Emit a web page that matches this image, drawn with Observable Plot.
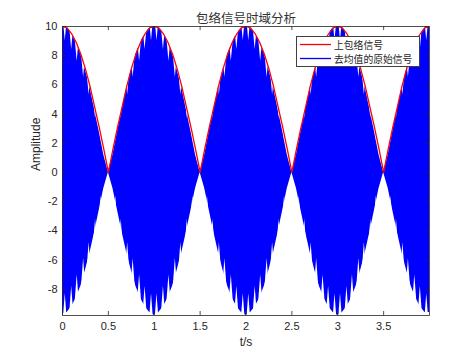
<!DOCTYPE html>
<html><head><meta charset="utf-8">
<script src="https://cdn.jsdelivr.net/npm/d3@7"></script>
<script src="https://cdn.jsdelivr.net/npm/@observablehq/plot@0.6"></script>
<style>
body{margin:0;background:#fff;}
#wrap{position:relative;width:474px;height:355px;overflow:hidden;}
#legend{position:absolute;left:296px;top:36px;width:122px;height:29px;border:1px solid #404040;background:#fff;}
#legend svg{display:block;}
</style></head><body><div id="wrap"></div>
<script>
const title = "包络信号时域分析";
const xLabel = "t/s";
const yLabel = "Amplitude";
const xTicks = [0, 0.5, 1, 1.5, 2, 2.5, 3, 3.5];
const yTicks = [-8, -6, -4, -2, 0, 2, 4, 6, 8, 10];
const seriesNames = ["上包络信号", "去均值的原始信号"];
const seriesColors = ["#ff0000", "#0000ff"];

const t = [
0,0.05,0.1,0.15,0.2,0.25,0.3,0.35,0.4,0.45,0.5,0.55,0.6,0.65,0.7,0.75,0.8,0.85,0.9,0.95,
1,1.05,1.1,1.15,1.2,1.25,1.3,1.35,1.4,1.45,1.5,1.55,1.6,1.65,1.7,1.75,1.8,1.85,1.9,1.95,
2,2.05,2.1,2.15,2.2,2.25,2.3,2.35,2.4,2.45,2.5,2.55,2.6,2.65,2.7,2.75,2.8,2.85,2.9,2.95,
3,3.05,3.1,3.15,3.2,3.25,3.3,3.35,3.4,3.45,3.5,3.55,3.6,3.65,3.7,3.75,3.8,3.85,3.9,3.95,
4];
const envelope = [
10,9.9,9.5,8.9,8.1,7.1,5.9,4.5,3.1,1.6,0,1.6,3.1,4.5,5.9,7.1,8.1,8.9,9.5,9.9,
10,9.9,9.5,8.9,8.1,7.1,5.9,4.5,3.1,1.6,0,1.6,3.1,4.5,5.9,7.1,8.1,8.9,9.5,9.9,
10,9.9,9.5,8.9,8.1,7.1,5.9,4.5,3.1,1.6,0,1.6,3.1,4.5,5.9,7.1,8.1,8.9,9.5,9.9,
10,9.9,9.5,8.9,8.1,7.1,5.9,4.5,3.1,1.6,0,1.6,3.1,4.5,5.9,7.1,8.1,8.9,9.5,9.9,
10];
const signalHigh = [
10,9.9,9.5,8.9,8.1,7.0,5.8,4.3,2.8,1.2,0,1.2,2.8,4.3,5.8,7.0,8.1,8.9,9.5,9.9,
10,9.9,9.5,8.9,8.1,7.0,5.8,4.3,2.8,1.2,0,1.2,2.8,4.3,5.8,7.0,8.1,8.9,9.5,9.9,
10,9.9,9.5,8.9,8.1,7.0,5.8,4.3,2.8,1.2,0,1.2,2.8,4.3,5.8,7.0,8.1,8.9,9.5,9.9,
10,9.9,9.5,8.9,8.1,7.0,5.8,4.3,2.8,1.2,0,1.2,2.8,4.3,5.8,7.0,8.1,8.9,9.5,9.9,
10];
const signalLow = [
-9.7,-9.6,-9.2,-8.6,-7.8,-6.7,-5.5,-4.1,-2.6,-1.1,0,-1.1,-2.6,-4.1,-5.5,-6.7,-7.8,-8.6,-9.2,-9.6,
-9.8,-9.6,-9.2,-8.6,-7.8,-6.7,-5.5,-4.1,-2.6,-1.1,0,-1.1,-2.6,-4.1,-5.5,-6.7,-7.8,-8.6,-9.2,-9.6,
-9.8,-9.6,-9.2,-8.6,-7.8,-6.7,-5.5,-4.1,-2.6,-1.1,0,-1.1,-2.6,-4.1,-5.5,-6.7,-7.8,-8.6,-9.2,-9.6,
-9.8,-9.6,-9.2,-8.6,-7.8,-6.7,-5.5,-4.1,-2.6,-1.1,0,-1.1,-2.6,-4.1,-5.5,-6.7,-7.8,-8.6,-9.2,-9.6,
-9.6];
const notchT = [
0.03,0.10,0.16,0.23,0.29,0.36,0.42,
0.58,0.64,0.71,0.77,0.84,0.90,0.97,1.03,1.10,1.16,1.23,1.29,1.36,1.42,
1.58,1.64,1.71,1.77,1.84,1.90,1.97,2.03,2.10,2.16,2.23,2.29,2.36,2.42,
2.58,2.64,2.71,2.77,2.84,2.90,2.97,3.03,3.10,3.16,3.23,3.29,3.36,3.42,
3.58,3.64,3.71,3.77,3.84,3.90,3.97];
const topNotchY = [
9.0,8.4,7.6,6.5,5.3,3.7,2.2,
2.2,3.7,5.3,6.5,7.6,8.4,9.0,9.0,8.4,7.6,6.5,5.3,3.7,2.2,
2.2,3.7,5.3,6.5,7.6,8.4,9.0,9.0,8.4,7.6,6.5,5.3,3.7,2.2,
2.2,3.7,5.3,6.5,7.6,8.4,9.0,9.0,8.4,7.6,6.5,5.3,3.7,2.2,
2.2,3.7,5.3,6.5,7.6,8.4,9.0];
const botNotchY = [
-8.3,-7.8,-7.0,-5.9,-4.8,-3.2,-1.6,
-1.6,-3.2,-4.8,-5.9,-7.0,-7.8,-8.3,-8.3,-7.8,-7.0,-5.9,-4.8,-3.2,-1.6,
-1.6,-3.2,-4.8,-5.9,-7.0,-7.8,-8.3,-8.3,-7.8,-7.0,-5.9,-4.8,-3.2,-1.6,
-1.6,-3.2,-4.8,-5.9,-7.0,-7.8,-8.3,-8.3,-7.8,-7.0,-5.9,-4.8,-3.2,-1.6,
-1.6,-3.2,-4.8,-5.9,-7.0,-7.8,-8.3];

const sig = t.map((x, i) => ({t: x, env: envelope[i], hi: signalHigh[i], lo: signalLow[i]}));

// white wedge-shaped gaps between the carrier peaks (tip inside the blue band, wide end outside it)
function wedges(times, tips, halfWidth, reach) {
  const out = [];
  times.forEach((x, i) => {
    const base = tips[i] + reach;
    out.push({id: i, t: x - halfWidth, a: base, b: base});
    out.push({id: i, t: x, a: base, b: tips[i]});
    out.push({id: i, t: x + halfWidth, a: base, b: base});
  });
  return out;
}
const topW = wedges(notchT, topNotchY, 0.028, 2.0);
const botW = wedges(notchT, botNotchY, 0.026, -2.2);

const W = 474, H = 355, mL = 62, mR = 45, mT = 26, mB = 40;
const innerW = W - mL - mR, innerH = H - mT - mB;
const axisColor = "#262626";

const chart = Plot.plot({
  width: W, height: H,
  marginLeft: mL, marginRight: mR, marginTop: mT, marginBottom: mB,
  x: {domain: [0, 4], label: null},
  y: {domain: [-9.8, 10], label: null},
  style: {fontFamily: "'Liberation Sans', Arial, sans-serif", fontSize: "11px", color: axisColor, background: "#fff", overflow: "visible"},
  marks: [
    Plot.areaY(sig, {x: "t", y1: "lo", y2: "hi", fill: seriesColors[1], clip: true}),
    Plot.areaY(topW, {x: "t", y1: "a", y2: "b", z: "id", fill: "#fff", clip: true}),
    Plot.areaY(botW, {x: "t", y1: "a", y2: "b", z: "id", fill: "#fff", clip: true}),
    Plot.line(sig, {x: "t", y: "env", stroke: seriesColors[0], strokeWidth: 1.3, clip: true}),
    Plot.frame({stroke: axisColor, strokeWidth: 0.8}),
    Plot.tickX(xTicks, {x: d => d, insetTop: innerH - 4, stroke: axisColor, strokeWidth: 0.8}),
    Plot.tickX(xTicks, {x: d => d, insetBottom: innerH - 4, stroke: axisColor, strokeWidth: 0.8}),
    Plot.tickY(yTicks, {y: d => d, insetRight: innerW - 4, stroke: axisColor, strokeWidth: 0.8}),
    Plot.tickY(yTicks, {y: d => d, insetLeft: innerW - 4, stroke: axisColor, strokeWidth: 0.8}),
    Plot.axisX({ticks: xTicks, tickSize: 0, tickPadding: 7, tickFormat: d => String(d), label: null}),
    Plot.axisY({ticks: yTicks, tickSize: 0, tickPadding: 5, tickFormat: d => String(d), label: null}),
    Plot.text([xLabel], {text: d => d, frameAnchor: "bottom", dy: 30, fontSize: 12, fill: axisColor}),
    Plot.text([yLabel], {text: d => d, frameAnchor: "left", dx: -26, rotate: -90, fontSize: 12, fill: axisColor}),
    Plot.text([title], {text: d => d, frameAnchor: "top", dy: -12, fontSize: 12.5, fill: "#333", fontFamily: "'Noto Sans CJK SC', sans-serif"})
  ]
});
const wrap = document.getElementById("wrap");
wrap.appendChild(chart);

// legend
const leg = document.createElement("div");
leg.id = "legend";
const ns = "http://www.w3.org/2000/svg";
const ls = document.createElementNS(ns, "svg");
ls.setAttribute("width", 122); ls.setAttribute("height", 29);
seriesNames.forEach((name, i) => {
  const yy = 7.5 + i * 14;
  const ln = document.createElementNS(ns, "line");
  ln.setAttribute("x1", 3); ln.setAttribute("x2", 34);
  ln.setAttribute("y1", yy); ln.setAttribute("y2", yy);
  ln.setAttribute("stroke", seriesColors[i]); ln.setAttribute("stroke-width", 1.3);
  ls.appendChild(ln);
  const tx = document.createElementNS(ns, "text");
  tx.setAttribute("x", 37); tx.setAttribute("y", yy);
  tx.setAttribute("dominant-baseline", "central");
  tx.setAttribute("font-family", "'Noto Sans CJK SC', sans-serif");
  tx.setAttribute("font-size", "9.8px");
  tx.setAttribute("fill", "#262626");
  tx.textContent = name;
  ls.appendChild(tx);
});
leg.appendChild(ls);
wrap.appendChild(leg);
</script></body></html>
